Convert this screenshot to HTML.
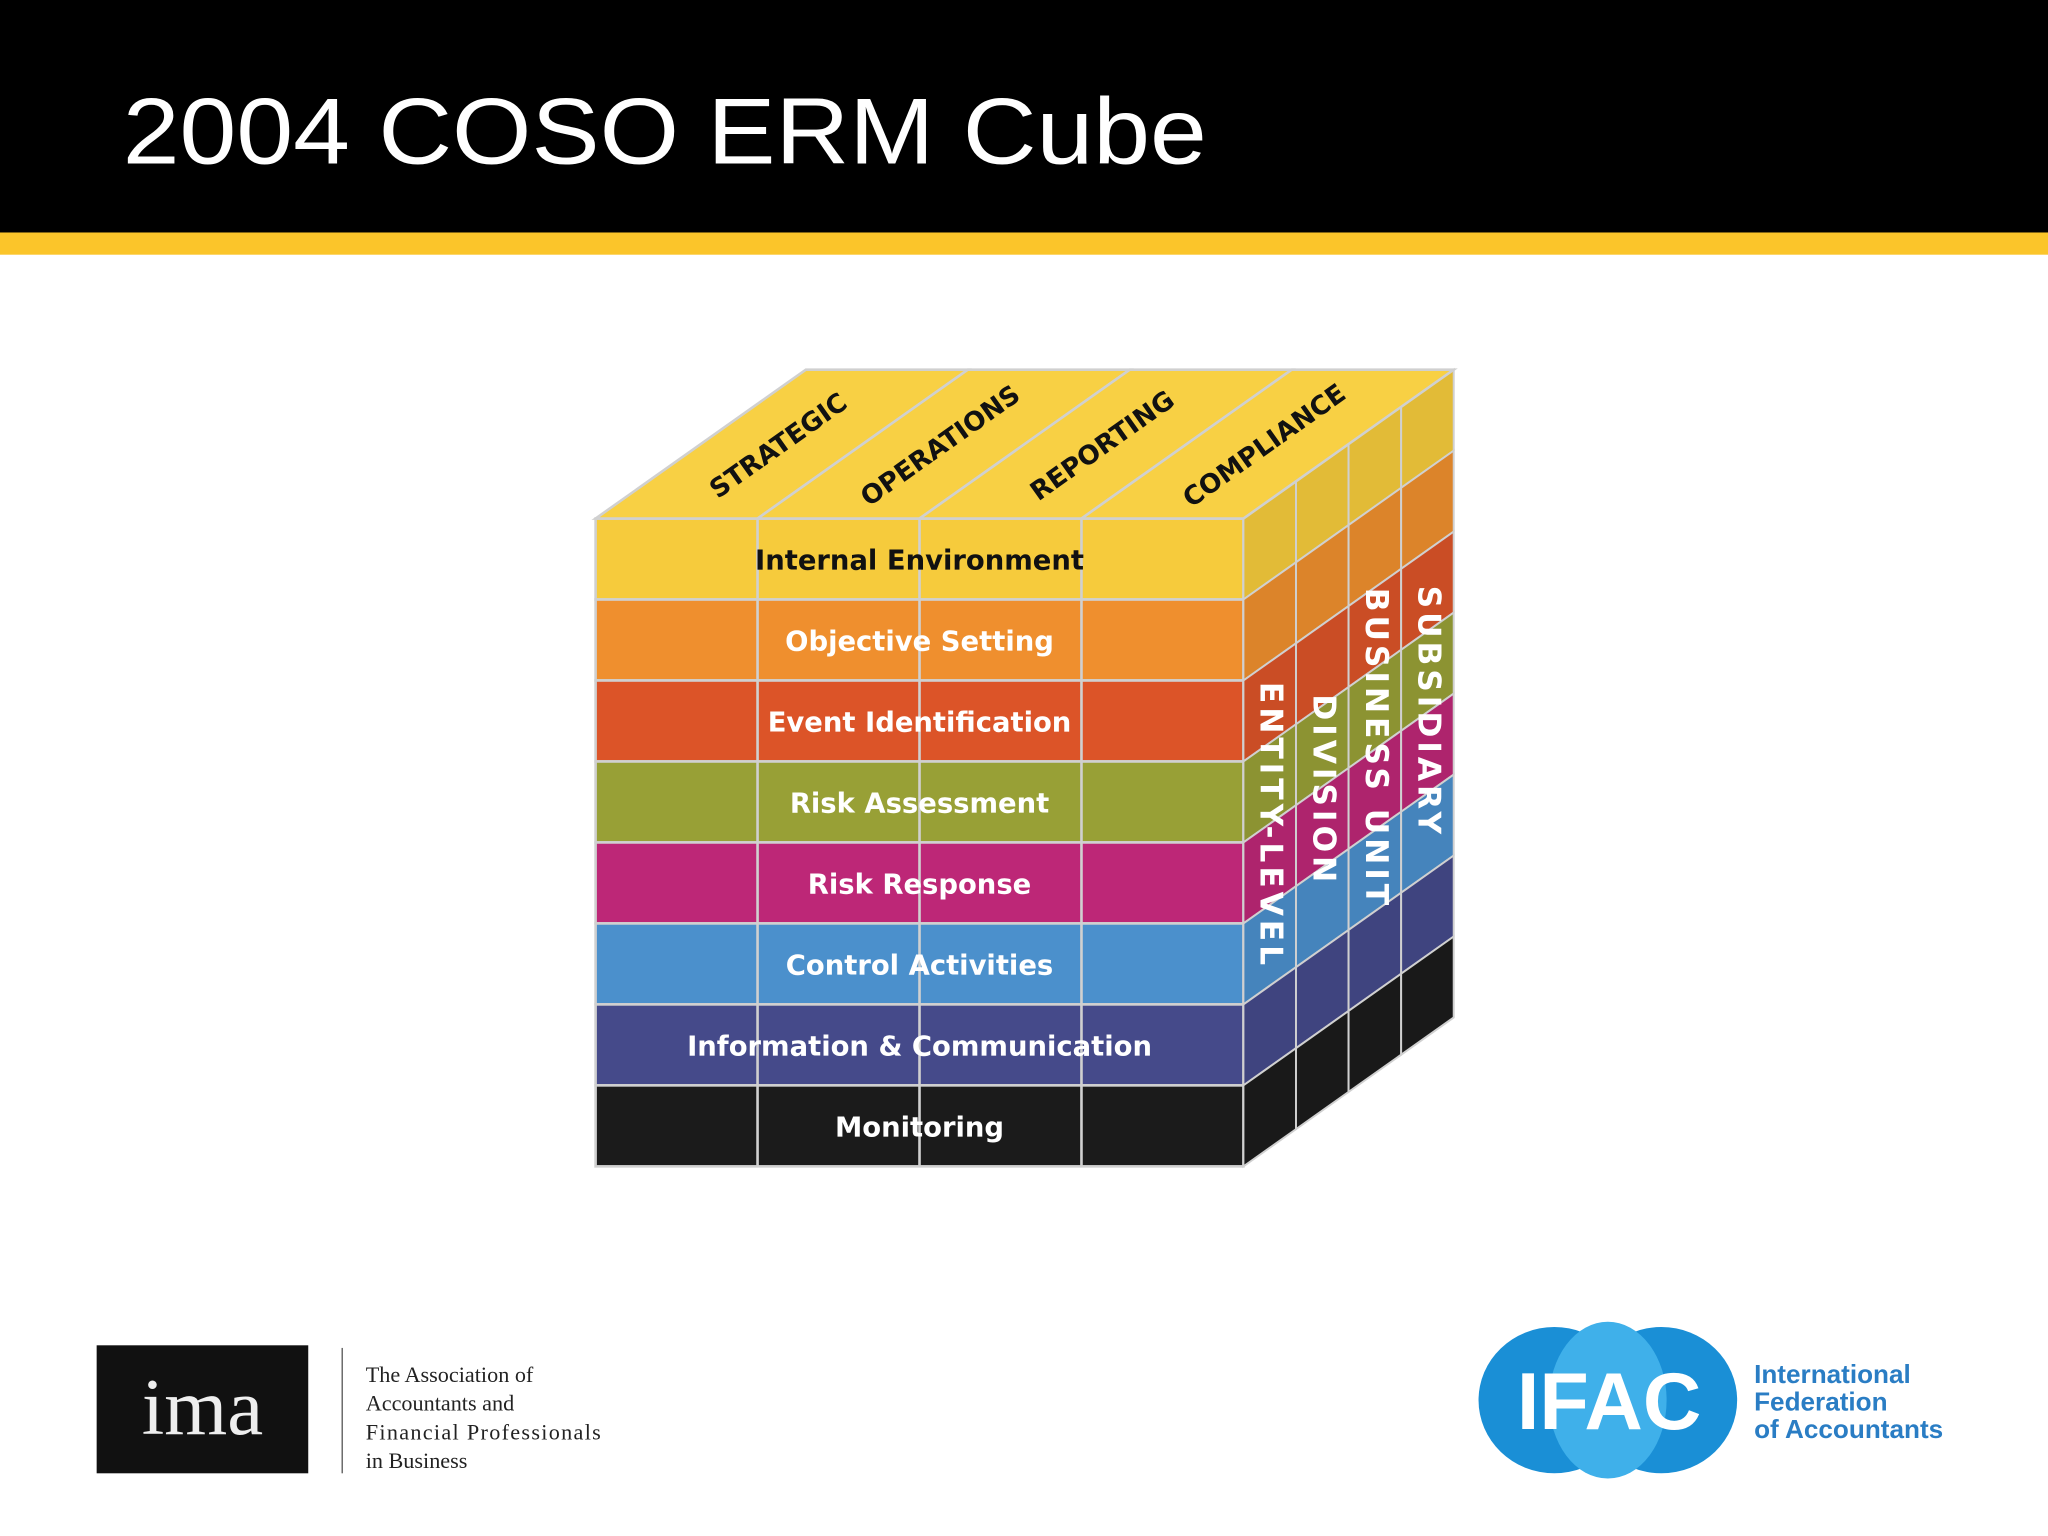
<!DOCTYPE html>
<html><head><meta charset="utf-8"><style>
html,body{margin:0;padding:0;background:#fff;}
svg{display:block;}
</style></head><body>
<svg xmlns="http://www.w3.org/2000/svg" width="2048" height="1536" viewBox="0 0 1568 1176">
<rect x="0" y="0" width="1568" height="178" fill="#000"/>
<rect x="0" y="178" width="1568" height="17" fill="#fbc52a"/>
<text x="94" y="125" fill="#fff" font-family="Liberation Sans, sans-serif" font-size="72" textLength="830" lengthAdjust="spacingAndGlyphs">2004 COSO ERM Cube</text>
<g id="cube"></g>

<g>
<rect x="74" y="1030" width="162" height="98" fill="#111"/>
<text x="155" y="1098" text-anchor="middle" fill="#eee" font-family="Liberation Serif, serif" font-size="62">ima</text>
<line x1="262" y1="1032" x2="262" y2="1128" stroke="#555" stroke-width="1"/>
<g font-family="Liberation Serif, serif" font-size="17" fill="#222">
<text x="280" y="1058">The Association of</text>
<text x="280" y="1080">Accountants and</text>
<text x="280" y="1102" textLength="180">Financial Professionals</text>
<text x="280" y="1124">in Business</text>
</g></g>

<g>
<ellipse cx="1190" cy="1072" rx="58" ry="56" fill="#1a8fd6"/>
<ellipse cx="1272" cy="1072" rx="58" ry="56" fill="#1a8fd6"/>
<ellipse cx="1231" cy="1072" rx="45" ry="60" fill="#3fb0ea"/>
<text x="1232" y="1094" text-anchor="middle" fill="#fff" font-family="Liberation Sans, sans-serif" font-weight="bold" font-size="62">IFAC</text>
<g font-family="Liberation Sans, sans-serif" font-weight="bold" font-size="20" fill="#2a7dc4">
<text x="1343" y="1059">International</text>
<text x="1343" y="1080">Federation</text>
<text x="1343" y="1101">of Accountants</text>
</g></g>
</svg>
<script>
const components=["Internal Environment","Objective Setting","Event Identification","Risk Assessment","Risk Response","Control Activities","Information & Communication","Monitoring"];
const componentColors=["#f6cb3c","#ef8f2e","#dc5428","#98a036","#bd2777","#4b90cc","#454a8a","#1b1b1b"];
const objectives=["STRATEGIC","OPERATIONS","REPORTING","COMPLIANCE"];
const units=["ENTITY-LEVEL","DIVISION","BUSINESS UNIT","SUBSIDIARY"];
const NS="http://www.w3.org/2000/svg";
const g=document.getElementById('cube');
const X0=456,X1=952,Y0=397,Y1=893,DX=161,DY=-114;
const rowH=(Y1-Y0)/components.length, colW=(X1-X0)/objectives.length;
function mk(t,a){const e=document.createElementNS(NS,t);for(const k in a)e.setAttribute(k,a[k]);g.appendChild(e);return e;}
function dark(c,f){const n=parseInt(c.slice(1),16);const r=Math.round(((n>>16)&255)*f),gg=Math.round(((n>>8)&255)*f),b=Math.round((n&255)*f);return `rgb(${r},${gg},${b})`;}
components.forEach((name,i)=>{
 const r=mk('rect',{x:X0,y:Y0+i*rowH,width:X1-X0,height:rowH,fill:componentColors[i],stroke:'#d0d0d0','stroke-width':2});
 
 
});
for(let c=1;c<objectives.length;c++){const l=mk('line',{x1:X0+c*colW,y1:Y0,x2:X0+c*colW,y2:Y1,stroke:'#d0d0d0','stroke-width':2});
 
 }
components.forEach((name,i)=>{
 const t=mk('text',{x:(X0+X1)/2,y:Y0+i*rowH+rowH/2+8,'text-anchor':'middle','font-family':'DejaVu Sans, Liberation Sans, sans-serif','font-weight':'bold','font-size':21,fill:i==0?'#111':'#fff'});
 t.textContent=name;
 
 
});
const n=units.length;
for(let k=0;k<n;k++){
 const xa=X1+DX*k/n, xb=X1+DX*(k+1)/n, ya=DY*k/n, yb=DY*(k+1)/n;
 components.forEach((nm,i)=>{
  const t=Y0+i*rowH,b=t+rowH;
  const p=mk('polygon',{points:`${xa},${t+ya} ${xb},${t+yb} ${xb},${b+yb} ${xa},${b+ya}`,fill:dark(componentColors[i],0.92),stroke:'#d0d0d0','stroke-width':1.5});
  
  
 });
}
const unitCenters=[632,605,573,545];
for(let k=0;k<n;k++){
 const cx=X1+DX*(k+0.5)/n, cy=unitCenters[k];
 const t=mk('text',{x:cx,y:cy,transform:`rotate(90 ${cx} ${cy})`,'text-anchor':'middle','dominant-baseline':'middle','font-family':'DejaVu Sans, Liberation Sans, sans-serif','font-weight':'bold','font-size':24,'letter-spacing':3,fill:'#fff'});
 t.textContent=units[k];
 
 
}
for(let c=0;c<objectives.length;c++){
 const xa=X0+c*colW,xb=xa+colW;
 const p=mk('polygon',{points:`${xa},${Y0} ${xb},${Y0} ${xb+DX},${Y0+DY} ${xa+DX},${Y0+DY}`,fill:'#f8d044',stroke:'#d0d0d0','stroke-width':2});
 
 
 const cx=xa+colW/2+DX*0.5-2, cy=Y0+DY*0.5+2;
 const ang=Math.atan2(DY,DX)*180/Math.PI;
 const t=mk('text',{x:cx,y:cy,transform:`rotate(${ang} ${cx} ${cy})`,'text-anchor':'middle','dominant-baseline':'middle','font-family':'DejaVu Sans, Liberation Sans, sans-serif','font-weight':'bold','font-size':20,fill:'#111'});
 t.textContent=objectives[c];
 
 
}
</script>
</body></html>
